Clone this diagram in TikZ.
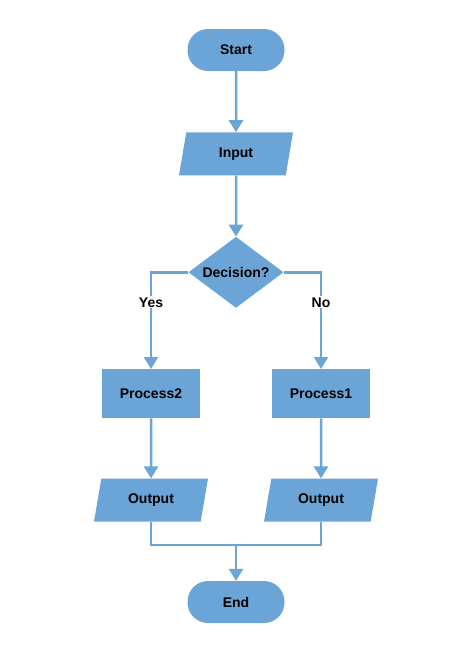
\documentclass[tikz,border=0pt]{standalone}
\usepackage{fontspec}
\setmainfont{Liberation Sans}
\usetikzlibrary{calc,positioning,chains,shapes.geometric,arrows.meta}
\definecolor{flowblue}{HTML}{6BA5D7}
\tikzset{
>={Triangle[length=12pt,width=14pt]},
  terminal/.style={
    rectangle,
    rounded corners=20.5pt,
    fill=flowblue,
    minimum width=97pt,
    minimum height=42pt,
    inner sep=0pt,
    text centered},
  io/.style={
    trapezium,
    trapezium left angle=60,
    trapezium right angle=120,
    trapezium stretches body,
    fill=flowblue,
    minimum width=114pt,
    minimum height=43pt,
    inner sep=0pt,
    text centered},
  process/.style={
    rectangle,
    fill=flowblue,
    minimum width=98pt,
    minimum height=49pt,
    inner sep=0pt,
    text centered},
  decision/.style={
    diamond,
    aspect=1.34,
    fill=flowblue,
    minimum width=95pt,
    minimum height=71pt,
    inner sep=0pt,
    text centered},
  flow/.style={draw=flowblue, line width=2.5pt},
  line/.style={flow, ->},
  branchlabel/.style={fill=white, inner sep=1pt},
  every join/.style={line}
}

\begin{document}
\begin{tikzpicture}
  [node distance=61pt,
  start chain=going below,
  font=\fontsize{14pt}{16pt}\selectfont\bfseries]
  \useasboundingbox (0,0) rectangle (474pt,-672pt);
  \node[terminal, on chain] (start) at (236pt,-50pt) {Start};
  \node[io, on chain, join] (input) {Input};
  \node[decision, on chain, join] (decision) {Decision?};

  \node[process, below=61pt of decision, xshift=-85pt] (proc2) {Process2};
  \node[process, below=61pt of decision, xshift=85pt] (proc1) {Process1};
  \node[io, below=60pt of proc2] (out2) {Output};
  \node[io, below=60pt of proc1] (out1) {Output};
  \coordinate (merge) at ($(out2.south)!.5!(out1.south) + (0,-23pt)$);
  \node[terminal, below=36pt of merge] (end) {End};

  \draw[line] (decision.west) -| node[branchlabel, pos=.655] {Yes} (proc2);
  \draw[line] (decision.east) -| node[branchlabel, pos=.655] {No} (proc1);
  \draw[line] (proc2) -- (out2);
  \draw[line] (proc1) -- (out1);
  \draw[flow] (out2.south) |- (merge) -| (out1.south);
  \draw[line] (merge) -- (end);
\end{tikzpicture}
\end{document}
